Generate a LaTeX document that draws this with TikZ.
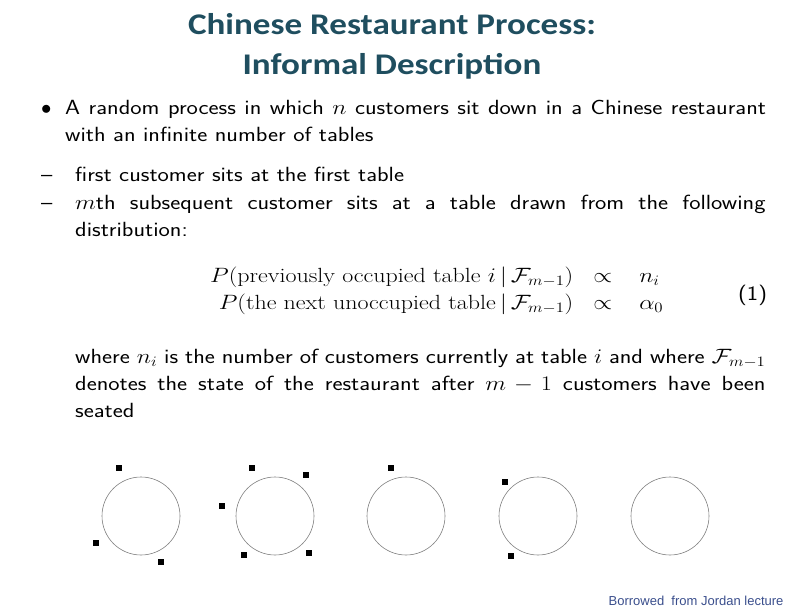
\documentclass[tikz,border=0pt]{standalone}
\usepackage{fontspec}
\usepackage{amsmath}
\usepackage{graphicx}
\newfontfamily\titlefont{Carlito}
\newfontfamily\footfont{Liberation Sans}
\definecolor{titlecol}{HTML}{1F4E5F}
\definecolor{footcol}{HTML}{3A4E8C}
\newcommand{\sx}[1]{\scalebox{1.17}[1]{#1}}
\newcommand{\para}[2]{\sx{\parbox[t]{#1}{\sffamily\fontsize{20.5}{27}\selectfont\hyphenpenalty=10000 #2}}}
\tikzset{txt/.style={anchor=base west,inner sep=0pt,font=\sffamily\fontsize{20.5}{27}\selectfont},
tbl/.style={draw=gray,line width=0.6pt},
pers/.style={fill=black,minimum size=6pt,inner sep=0pt}}
\begin{document}
\begin{tikzpicture}[x=1pt,y=-1pt]
\useasboundingbox (0,0) rectangle (792,612);
\node[font=\titlefont\bfseries\fontsize{30}{42}\selectfont,color=titlecol,inner sep=0pt] (title1) at (392,24) {\sx{Chinese Restaurant Process:}};
\node[font=\titlefont\bfseries\fontsize{30}{42}\selectfont,color=titlecol,inner sep=0pt] (title2) at (392,66) {\sx{Informal Description}};
\node[txt] (bul) at (41,115) {$\bullet$};
\node[txt] (p1) at (65,115) {\para{599pt}{A random process in which $n$ customers sit down in a Chinese restaurant with an infinite number of tables}};
\node[txt] (d1) at (41,182) {\sx{--}};
\node[txt] (l1) at (75,182) {\sx{first customer sits at the first table}};
\node[txt] (d2) at (41,210) {\sx{--}};
\node[txt] (l2) at (75,210) {\para{590pt}{$m$th subsequent customer sits at a table drawn from the following\linebreak distribution:}};
\node[anchor=west,inner sep=0pt,font=\fontsize{20.5}{28}\selectfont] (eq) at (210,290) {\sx{$\begin{array}{@{}r@{\;\;\;}c@{\;\;\;\;}l@{}}
P(\text{previously occupied table } i\,|\,\mathcal{F}_{m-1}) & \propto & n_i\\[-1pt]
P(\text{the next unoccupied table}\,|\,\mathcal{F}_{m-1}) & \propto & \alpha_0
\end{array}$}};
\node[txt] (num) at (738,300) {\sx{(1)}};
\node[txt] (p2) at (75,363) {\para{590pt}{where $n_i$ is the number of customers currently at table $i$ and where $\mathcal{F}_{m-1}$\linebreak denotes the state of the restaurant after $m-1$ customers have been\linebreak seated}};
\foreach \n/\x in {t1/141,t2/275,t3/406,t4/538,t5/670}
  \node[tbl,circle,minimum size=78pt] (\n) at (\x,516) {};
\foreach \n/\x/\y in {a/119/468,b/96/543,c/161/562,d/252/468,e/306/475,f/222/506,g/244/555,h/309/553,i/391/468,j/505/482,k/511/556}
  \node[pers] (\n) at (\x,\y) {};
\node[font=\footfont\fontsize{13}{15}\selectfont,color=footcol,anchor=east] (foot) at (787,601) {Borrowed\ \ from Jordan lecture};
\end{tikzpicture}
\end{document}
